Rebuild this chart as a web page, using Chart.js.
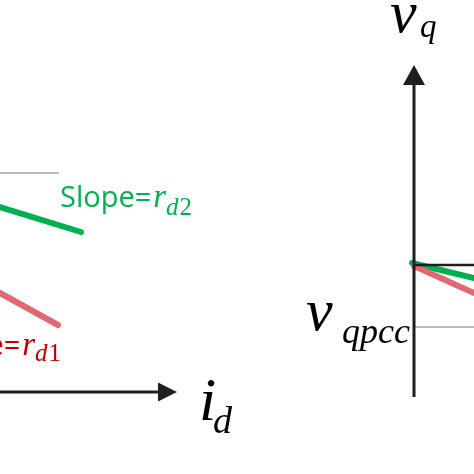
<!DOCTYPE html>
<html>
<head>
<meta charset="utf-8">
<script src="https://cdn.jsdelivr.net/npm/chart.js@4.4.1/dist/chart.umd.min.js"></script>
<style>
  html, body { margin: 0; padding: 0; background: #ffffff; }
  #wrap { width: 474px; height: 474px; }
</style>
</head>
<body>
<div id="wrap"><canvas id="c" width="474" height="474"></canvas></div>
<script>
// Diagram coordinates (x to the right, y upward), domain 0..474 on both axes
const grayLeft     = [[0, 301], [59, 301]];
const greenLeft    = [[0, 267], [81, 242]];
const redLeft      = [[0, 181], [58, 149]];
const idAxis       = [[0, 82], [160, 82]];
const idArrow      = [[158, 91.5], [177, 82], [158, 72.5]];

const vqAxis       = [[414, 77], [414, 390]];
const vqArrow      = [[403, 389], [414, 409], [425, 389]];
const blackRight   = [[414, 209], [474, 209]];
const greenRight   = [[412, 211], [474, 196]];
const redRight     = [[414, 208], [474, 181]];
const grayRight    = [[414, 147], [474, 147]];

// Text labels: anchor (x, baseline y) in diagram coordinates
const labelGreen   = { at: [60, 267],  text: 'Slope=', sym: 'r', sub: 'd', idx: '2' };
const labelRed     = { at: [-71, 119], text: 'Slope=', sym: 'r', sub: 'd', idx: '1' };
const labelId      = { at: [199, 54],  sym: 'i', subAt: [213, 41], sub: 'd' };
const labelVq      = { at: [390, 442], sym: 'v', subAt: [420, 437], sub: 'q' };
const labelVqpcc   = { at: [306, 144], sym: 'v', subAt: [342, 131], sub: 'qpcc' };

const GREEN = 'rgb(0,176,80)';
const RED_LINE = 'rgb(224,104,112)';
const RED_TEXT = 'rgb(192,0,0)';
const GRAY = 'rgb(166,166,166)';
const BLACK = 'rgb(30,30,30)';

function pts(arr) { return arr.map(p => ({ x: p[0], y: p[1] })); }
function seg(arr, color, width, cap) {
  return { data: pts(arr), showLine: true, borderColor: color, backgroundColor: color,
           borderWidth: width, pointRadius: 0, clip: false, borderCapStyle: cap || 'butt' };
}

const overlay = {
  id: 'overlay',
  afterDatasetsDraw(chart) {
    const ctx = chart.ctx, xs = chart.scales.x, ys = chart.scales.y;
    const px = v => xs.getPixelForValue(v), py = v => ys.getPixelForValue(v);
    // arrowheads
    [idArrow, vqArrow].forEach(tri => {
      ctx.save();
      ctx.fillStyle = BLACK;
      ctx.beginPath();
      tri.forEach((p, i) => i ? ctx.lineTo(px(p[0]), py(p[1])) : ctx.moveTo(px(p[0]), py(p[1])));
      ctx.closePath();
      ctx.fill();
      ctx.restore();
    });
    ctx.save();
    ctx.textBaseline = 'alphabetic';
    ctx.textAlign = 'left';
    // slope labels
    function slope(lbl, color, subDrop) {
      let x = px(lbl.at[0]); const y = py(lbl.at[1]);
      ctx.fillStyle = color;
      ctx.font = '29px "Open Sans"';
      ctx.fillText(lbl.text, x, y); x += ctx.measureText(lbl.text).width + 2;
      ctx.font = 'italic 33px "Liberation Serif"';
      ctx.fillText(lbl.sym, x, y); x += ctx.measureText(lbl.sym).width;
      ctx.font = 'italic 25px "Liberation Serif"';
      ctx.fillText(lbl.sub, x, y + subDrop); x += ctx.measureText(lbl.sub).width + 1;
      ctx.font = '25px "Liberation Serif"';
      ctx.fillText(lbl.idx, x, y + subDrop);
    }
    slope(labelGreen, GREEN, 8);
    slope(labelRed, RED_TEXT, 6);
    // axis labels
    function axisLabel(lbl, bigSize, subSize) {
      ctx.fillStyle = '#000';
      ctx.font = 'italic ' + bigSize + 'px "Liberation Serif"';
      ctx.fillText(lbl.sym, px(lbl.at[0]), py(lbl.at[1]));
      ctx.font = 'italic ' + subSize + 'px "Liberation Serif"';
      ctx.fillText(lbl.sub, px(lbl.subAt[0]), py(lbl.subAt[1]));
    }
    axisLabel(labelId, 62, 38);
    axisLabel(labelVq, 60, 33);
    axisLabel(labelVqpcc, 60, 36);
    ctx.restore();
  }
};

new Chart(document.getElementById('c'), {
  type: 'scatter',
  data: {
    datasets: [
      seg(grayLeft, GRAY, 1.5),
      seg(greenLeft, GREEN, 6, 'round'),
      seg(redLeft, RED_LINE, 6, 'round'),
      seg(idAxis, BLACK, 3),
      seg(vqAxis, BLACK, 3),
      seg(grayRight, GRAY, 1.5),
      seg(blackRight, BLACK, 2.5),
      seg(redRight, RED_LINE, 6, 'round'),
      seg(greenRight, GREEN, 6, 'round')
    ]
  },
  options: {
    responsive: false,
    devicePixelRatio: 1,
    animation: false,
    layout: { padding: 0 },
    plugins: { legend: { display: false }, tooltip: { enabled: false } },
    scales: {
      x: { type: 'linear', min: 0, max: 474, display: false },
      y: { type: 'linear', min: 0, max: 474, display: false }
    }
  },
  plugins: [overlay]
});
</script>
</body>
</html>
